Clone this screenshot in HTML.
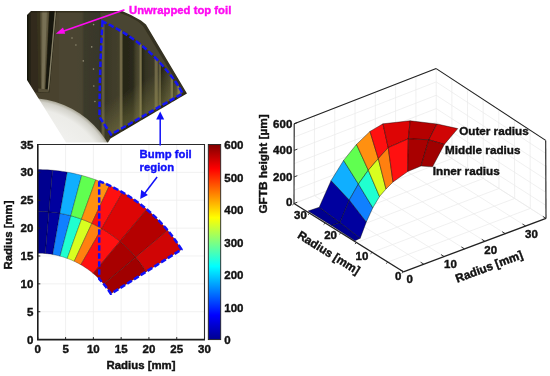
<!DOCTYPE html>
<html><head><meta charset="utf-8"><title>GFTB height</title>
<style>html,body{margin:0;padding:0;background:#fff}body{width:550px;height:376px;overflow:hidden}.t{font-family:"Liberation Sans",Arial,sans-serif;font-weight:bold;stroke-width:0.4px;paint-order:stroke}</style></head>
<body>
<svg width="550" height="376" viewBox="0 0 550 376" style="display:block">
<defs>
<linearGradient id="jet" x1="0" y1="1" x2="0" y2="0">
<stop offset="0" stop-color="#00008f"/>
<stop offset="0.125" stop-color="#0000ff"/>
<stop offset="0.375" stop-color="#00ffff"/>
<stop offset="0.625" stop-color="#ffff00"/>
<stop offset="0.875" stop-color="#ff0000"/>
<stop offset="1" stop-color="#800000"/>
</linearGradient>
<linearGradient id="pbase" x1="27" y1="0" x2="190" y2="0" gradientUnits="userSpaceOnUse">
<stop offset="0.0000" stop-color="#1a170d"/>
<stop offset="0.0123" stop-color="#2b2719"/>
<stop offset="0.0613" stop-color="#332f1f"/>
<stop offset="0.0675" stop-color="#2b2718"/>
<stop offset="0.1840" stop-color="#2b2718"/>
<stop offset="0.1902" stop-color="#4b4430"/>
<stop offset="0.2638" stop-color="#4c4530"/>
<stop offset="0.3374" stop-color="#4a4430"/>
<stop offset="0.3528" stop-color="#3b3a2b"/>
<stop offset="0.4356" stop-color="#39382a"/>
<stop offset="0.4540" stop-color="#353324"/>
<stop offset="0.4620" stop-color="#605a3e"/>
<stop offset="0.4724" stop-color="#605a3e"/>
<stop offset="0.4785" stop-color="#393826"/>
<stop offset="0.5215" stop-color="#3f3b29"/>
<stop offset="0.5663" stop-color="#43402c"/>
<stop offset="0.5706" stop-color="#6f6846"/>
<stop offset="0.5828" stop-color="#6f6846"/>
<stop offset="0.5890" stop-color="#262617"/>
<stop offset="0.6503" stop-color="#2a291b"/>
<stop offset="0.6687" stop-color="#43402b"/>
<stop offset="0.6890" stop-color="#4f4b31"/>
<stop offset="0.6920" stop-color="#7d754e"/>
<stop offset="0.7012" stop-color="#7d754e"/>
<stop offset="0.7055" stop-color="#262515"/>
<stop offset="0.7301" stop-color="#353323"/>
<stop offset="0.7791" stop-color="#3c3a28"/>
<stop offset="0.7877" stop-color="#6f6846"/>
<stop offset="0.7994" stop-color="#6f6846"/>
<stop offset="0.8049" stop-color="#353323"/>
<stop offset="0.8098" stop-color="#605b3e"/>
<stop offset="0.8190" stop-color="#605b3e"/>
<stop offset="0.8239" stop-color="#262515"/>
<stop offset="0.8528" stop-color="#353323"/>
<stop offset="0.8791" stop-color="#43402b"/>
<stop offset="0.8834" stop-color="#746e4a"/>
<stop offset="0.8939" stop-color="#746e4a"/>
<stop offset="0.8988" stop-color="#2a2919"/>
<stop offset="0.9202" stop-color="#3f3b28"/>
<stop offset="0.9264" stop-color="#7d754e"/>
<stop offset="0.9387" stop-color="#7d754e"/>
<stop offset="0.9448" stop-color="#353323"/>
<stop offset="1.0000" stop-color="#353323"/>
</linearGradient>
<radialGradient id="shaft" cx="28.8" cy="189.9" r="91.8" gradientUnits="userSpaceOnUse"><stop offset="0" stop-color="#e2e2e0"/><stop offset="0.6" stop-color="#f2f2f0"/><stop offset="0.88" stop-color="#ecece8"/><stop offset="0.965" stop-color="#d2d1c9"/><stop offset="1" stop-color="#a8a595"/></radialGradient>
<clipPath id="pclip"><polygon points="27,15 31,11 122,11 131,15 141,20.5 146,24.5 187,93.4 110.5,138.6 108,142.5 66,142.5 27,80"/></clipPath>
<linearGradient id="glow" x1="150" y1="115.3" x2="133" y2="86.5" gradientUnits="userSpaceOnUse"><stop offset="0" stop-color="#8a8648" stop-opacity="0.5"/><stop offset="0.12" stop-color="#8a8648" stop-opacity="0.42"/><stop offset="1" stop-color="#8a8648" stop-opacity="0"/></linearGradient>
<filter id="soft" x="-5%" y="-5%" width="110%" height="110%"><feGaussianBlur stdDeviation="0.45"/></filter>
<marker id="mb" markerWidth="8" markerHeight="8" refX="6" refY="3.5" orient="auto" markerUnits="userSpaceOnUse"><path d="M0,0 L7,3.5 L0,7 Z" fill="#0000ff"/></marker>
</defs>
<rect width="550" height="376" fill="#ffffff"/>
<g clip-path="url(#pclip)"><g filter="url(#soft)">
<rect x="15" y="0" width="190" height="155" fill="url(#pbase)"/>
<path d="M99,0 L101,21.5 Q123,28 143,45.7 T173,76.6 L183,93.5 L205,100 L205,0 Z" fill="#4a4530"/>
<path d="M122,11 L131,15 L141,20.5 L146,24.5 L187,93.4 L184.5,95 L143,26 L138,21.5 L129,16.5 L120,13 Z" fill="#2f2b1b" opacity="0.75"/>
<path d="M101,21.5 Q99.5,70 99.5,117 L111,134.5 L182.5,93.5 Q176,80 158,60.6 Q136,37 101,21.5 Z" fill="url(#glow)"/>
<path d="M187,93.4 L110.5,138.6 L109,136.6 L185.5,91.4 Z" fill="#2a2718" opacity="0.8"/>
<path d="M15,8 L37.5,8 L38.3,92 L15,92 Z" fill="#302b1b"/>
<path d="M15,8 L31,8 L31,92 L15,92 Z" fill="#272315" opacity="0.8"/>
<path d="M15,8 L28.6,8 L28.6,92 L15,92 Z" fill="#14110a" opacity="0.8"/>
<path d="M37,8 L56,8 L48.6,91 L38.3,91 Z" fill="#38331f"/>
<path d="M40.3,8 L49,8 L45,89.5 L41,89.5 Z" fill="#5d563e"/>
<path d="M42.3,8 L47,8 L44.2,89.5 L42,89.5 Z" fill="#776f54"/>
<path d="M49.6,8 L55,8 L47.6,90 L45.6,90 Z" fill="#17150c"/>
<path d="M55.1,8 L56.4,8 L49,90.5 L47.7,90.5 Z" fill="#858068"/>
<path d="M38.3,88.5 L48.8,89.5 L48.6,92.5 L38.3,92 Z" fill="#565039"/>
<path d="M15,92.5 L49.3,92.5 L57,8 L58.5,8 L59,150 L15,150 Z" fill="#49432f"/>
<circle cx="93.6" cy="24.6" r="0.8" fill="#8f8b74"/>
<circle cx="75.9" cy="45" r="0.8" fill="#8f8b74"/>
<circle cx="91.7" cy="46.9" r="0.8" fill="#8f8b74"/>
<circle cx="83.3" cy="60.9" r="0.8" fill="#8f8b74"/>
<circle cx="93.5" cy="69.1" r="0.8" fill="#8f8b74"/>
<circle cx="93.8" cy="86" r="0.8" fill="#8f8b74"/>
<circle cx="94.9" cy="101.5" r="0.8" fill="#8f8b74"/>
<circle cx="72" cy="38" r="0.8" fill="#8f8b74"/>
<rect x="15" y="9" width="190" height="3.5" fill="#1f1c10" opacity="0.55"/>
<circle cx="28.8" cy="189.9" r="91.8" fill="url(#shaft)"/>
</g></g>
<path d="M102.5,21.5 Q99.5,70 99.5,117 L111,134.5 L182.5,93.5 Q176,80 158,60.6 Q136,37 102.5,21.5 Z" fill="none" stroke="#1414f5" stroke-width="2.5" stroke-dasharray="5.6 2.4"/>
<line x1="124.5" y1="9.7" x2="61" y2="32" stroke="#ff0af2" stroke-width="1.7"/>
<polygon points="55.8,33.8 63,27.6 65.2,33.8" fill="#ff0af2"/>
<text x="129" y="14.2" class="t" font-size="11.3" fill="#ff0af2" stroke="#ff0af2">Unwrapped top foil</text>
<rect x="37.8" y="144.5" width="166.7" height="195.10000000000002" fill="#fff"/>
<line x1="65.58" y1="144.5" x2="65.58" y2="339.6" stroke="#ebebeb" stroke-width="0.7"/>
<line x1="93.37" y1="144.5" x2="93.37" y2="339.6" stroke="#ebebeb" stroke-width="0.7"/>
<line x1="121.15" y1="144.5" x2="121.15" y2="339.6" stroke="#ebebeb" stroke-width="0.7"/>
<line x1="148.93" y1="144.5" x2="148.93" y2="339.6" stroke="#ebebeb" stroke-width="0.7"/>
<line x1="176.72" y1="144.5" x2="176.72" y2="339.6" stroke="#ebebeb" stroke-width="0.7"/>
<line x1="37.8" y1="311.73" x2="204.5" y2="311.73" stroke="#ebebeb" stroke-width="0.7"/>
<line x1="37.8" y1="283.86" x2="204.5" y2="283.86" stroke="#ebebeb" stroke-width="0.7"/>
<line x1="37.8" y1="255.99" x2="204.5" y2="255.99" stroke="#ebebeb" stroke-width="0.7"/>
<line x1="37.8" y1="228.11" x2="204.5" y2="228.11" stroke="#ebebeb" stroke-width="0.7"/>
<line x1="37.8" y1="200.24" x2="204.5" y2="200.24" stroke="#ebebeb" stroke-width="0.7"/>
<line x1="37.8" y1="172.37" x2="204.5" y2="172.37" stroke="#ebebeb" stroke-width="0.7"/>
<path d="M37.80,211.39 L39.66,211.40 L41.52,211.45 L43.37,211.51 L45.23,211.61 L47.09,211.73 L48.94,211.88 L45.31,253.53 L44.06,253.43 L42.81,253.34 L41.56,253.28 L40.31,253.24 L39.05,253.21 L37.80,253.20 Z" fill="#00008f" stroke="#000" stroke-opacity="0.7" stroke-width="0.4" stroke-linejoin="round"/>
<path d="M48.94,211.88 L50.79,212.06 L52.64,212.26 L54.48,212.49 L56.32,212.75 L58.16,213.03 L59.99,213.34 L52.76,254.51 L51.52,254.30 L50.28,254.11 L49.04,253.94 L47.80,253.78 L46.55,253.65 L45.31,253.53 Z" fill="#00009f" stroke="#000" stroke-opacity="0.7" stroke-width="0.4" stroke-linejoin="round"/>
<path d="M59.99,213.34 L61.82,213.68 L63.64,214.04 L65.46,214.43 L67.27,214.85 L69.08,215.29 L70.88,215.76 L60.09,256.14 L58.88,255.83 L57.66,255.53 L56.44,255.25 L55.22,254.98 L53.99,254.74 L52.76,254.51 Z" fill="#1080ff" stroke="#000" stroke-opacity="0.7" stroke-width="0.4" stroke-linejoin="round"/>
<path d="M70.88,215.76 L72.67,216.26 L74.45,216.78 L76.23,217.33 L78.00,217.90 L79.76,218.50 L81.51,219.12 L67.26,258.41 L66.08,257.99 L64.89,257.58 L63.70,257.20 L62.50,256.83 L61.30,256.48 L60.09,256.14 Z" fill="#20ffd0" stroke="#000" stroke-opacity="0.7" stroke-width="0.4" stroke-linejoin="round"/>
<path d="M81.51,219.12 L83.25,219.77 L84.99,220.45 L86.71,221.15 L88.42,221.88 L90.12,222.63 L91.81,223.40 L74.20,261.29 L73.06,260.77 L71.91,260.26 L70.76,259.78 L69.60,259.30 L68.43,258.85 L67.26,258.41 Z" fill="#d8ff20" stroke="#000" stroke-opacity="0.7" stroke-width="0.4" stroke-linejoin="round"/>
<path d="M91.81,223.40 L93.49,224.20 L95.16,225.03 L96.81,225.88 L98.46,226.75 L100.09,227.65 L101.70,228.57 L80.86,264.77 L79.77,264.15 L78.68,263.55 L77.57,262.96 L76.45,262.39 L75.33,261.83 L74.20,261.29 Z" fill="#ff8010" stroke="#000" stroke-opacity="0.7" stroke-width="0.4" stroke-linejoin="round"/>
<path d="M101.70,228.57 L104.89,230.48 L108.03,232.48 L111.10,234.58 L114.12,236.76 L117.07,239.03 L119.95,241.39 L93.16,273.41 L91.22,271.83 L89.23,270.30 L87.20,268.82 L85.13,267.41 L83.02,266.06 L80.86,264.77 Z" fill="#ff1010" stroke="#000" stroke-opacity="0.7" stroke-width="0.4" stroke-linejoin="round"/>
<path d="M119.95,241.39 L122.76,243.82 L125.50,246.34 L128.17,248.94 L130.76,251.62 L133.27,254.37 L135.70,257.19 L103.78,284.06 L102.14,282.16 L100.45,280.31 L98.70,278.50 L96.90,276.75 L95.06,275.06 L93.16,273.41 Z" fill="#a80000" stroke="#000" stroke-opacity="0.7" stroke-width="0.4" stroke-linejoin="round"/>
<path d="M135.70,257.19 L137.59,259.50 L139.42,261.85 L141.20,264.24 L142.92,266.67 L144.58,269.15 L146.18,271.66 L110.84,293.81 L109.76,292.12 L108.64,290.45 L107.48,288.81 L106.28,287.20 L105.05,285.62 L103.78,284.06 Z" fill="#a00000" stroke="#000" stroke-opacity="0.7" stroke-width="0.4" stroke-linejoin="round"/>
<path d="M37.80,169.58 L40.26,169.60 L42.73,169.66 L45.19,169.75 L47.65,169.87 L50.11,170.03 L52.57,170.23 L48.94,211.88 L47.09,211.73 L45.23,211.61 L43.37,211.51 L41.52,211.45 L39.66,211.40 L37.80,211.39 Z" fill="#00008f" stroke="#000" stroke-opacity="0.7" stroke-width="0.4" stroke-linejoin="round"/>
<path d="M52.57,170.23 L55.02,170.46 L57.48,170.73 L59.92,171.04 L62.36,171.38 L64.80,171.76 L67.23,172.17 L59.99,213.34 L58.16,213.03 L56.32,212.75 L54.48,212.49 L52.64,212.26 L50.79,212.06 L48.94,211.88 Z" fill="#00009f" stroke="#000" stroke-opacity="0.7" stroke-width="0.4" stroke-linejoin="round"/>
<path d="M67.23,172.17 L69.65,172.61 L72.07,173.10 L74.48,173.61 L76.88,174.17 L79.28,174.75 L81.66,175.38 L70.88,215.76 L69.08,215.29 L67.27,214.85 L65.46,214.43 L63.64,214.04 L61.82,213.68 L59.99,213.34 Z" fill="#10afff" stroke="#000" stroke-opacity="0.7" stroke-width="0.4" stroke-linejoin="round"/>
<path d="M81.66,175.38 L84.04,176.03 L86.41,176.73 L88.76,177.45 L91.11,178.21 L93.44,179.01 L95.77,179.84 L81.51,219.12 L79.76,218.50 L78.00,217.90 L76.23,217.33 L74.45,216.78 L72.67,216.26 L70.88,215.76 Z" fill="#60ff50" stroke="#000" stroke-opacity="0.7" stroke-width="0.4" stroke-linejoin="round"/>
<path d="M95.77,179.84 L98.08,180.70 L100.37,181.60 L102.66,182.53 L104.93,183.49 L107.18,184.48 L109.42,185.51 L91.81,223.40 L90.12,222.63 L88.42,221.88 L86.71,221.15 L84.99,220.45 L83.25,219.77 L81.51,219.12 Z" fill="#ff9010" stroke="#000" stroke-opacity="0.7" stroke-width="0.4" stroke-linejoin="round"/>
<path d="M109.42,185.51 L111.65,186.57 L113.86,187.67 L116.06,188.79 L118.23,189.95 L120.40,191.14 L122.54,192.36 L101.70,228.57 L100.09,227.65 L98.46,226.75 L96.81,225.88 L95.16,225.03 L93.49,224.20 L91.81,223.40 Z" fill="#ff1010" stroke="#000" stroke-opacity="0.7" stroke-width="0.4" stroke-linejoin="round"/>
<path d="M122.54,192.36 L126.77,194.90 L130.93,197.55 L135.01,200.33 L139.01,203.23 L142.92,206.24 L146.74,209.36 L119.95,241.39 L117.07,239.03 L114.12,236.76 L111.10,234.58 L108.03,232.48 L104.89,230.48 L101.70,228.57 Z" fill="#dd0505" stroke="#000" stroke-opacity="0.7" stroke-width="0.4" stroke-linejoin="round"/>
<path d="M146.74,209.36 L150.47,212.59 L154.10,215.94 L157.64,219.38 L161.07,222.93 L164.40,226.57 L167.63,230.32 L135.70,257.19 L133.27,254.37 L130.76,251.62 L128.17,248.94 L125.50,246.34 L122.76,243.82 L119.95,241.39 Z" fill="#b40000" stroke="#000" stroke-opacity="0.7" stroke-width="0.4" stroke-linejoin="round"/>
<path d="M167.63,230.32 L170.13,233.38 L172.56,236.49 L174.91,239.67 L177.19,242.89 L179.40,246.17 L181.53,249.51 L146.18,271.66 L144.58,269.15 L142.92,266.67 L141.20,264.24 L139.42,261.85 L137.59,259.50 L135.70,257.19 Z" fill="#d00505" stroke="#000" stroke-opacity="0.7" stroke-width="0.4" stroke-linejoin="round"/>
<path d="M99.20,181.13 L99.20,279.01 L99.20,279.01 L102.41,282.47 L105.42,286.09 L108.24,289.88 L110.84,293.81 L181.53,249.51 L178.57,244.93 L175.47,240.45 L172.23,236.07 L168.85,231.80 L165.34,227.64 L161.69,223.59 L157.92,219.66 L154.02,215.86 L150.01,212.18 L145.88,208.64 L141.63,205.23 L137.28,201.96 L132.83,198.83 L128.28,195.84 L123.64,193.01 L118.91,190.32 L114.10,187.79 L109.20,185.41 L104.24,183.19 L99.20,181.13" fill="none" stroke="#1010f8" stroke-width="2.5" stroke-dasharray="5.6 2.4" stroke-linejoin="round"/>
<path d="M37.8,144.5 L204.5,144.5 L204.5,339.6" fill="none" stroke="#2a2a2a" stroke-width="1.1"/>
<path d="M37.8,144.0 L37.8,339.6 L205.0,339.6" fill="none" stroke="#1c1c1c" stroke-width="1.6"/>
<line x1="37.80" y1="339.6" x2="37.80" y2="337.1" stroke="#222" stroke-width="1"/>
<text x="37.80" y="353" text-anchor="middle" class="t" font-size="11.5" fill="#111" stroke="#111">0</text>
<line x1="65.58" y1="339.6" x2="65.58" y2="337.1" stroke="#222" stroke-width="1"/>
<text x="65.58" y="353" text-anchor="middle" class="t" font-size="11.5" fill="#111" stroke="#111">5</text>
<line x1="93.37" y1="339.6" x2="93.37" y2="337.1" stroke="#222" stroke-width="1"/>
<text x="93.37" y="353" text-anchor="middle" class="t" font-size="11.5" fill="#111" stroke="#111">10</text>
<line x1="121.15" y1="339.6" x2="121.15" y2="337.1" stroke="#222" stroke-width="1"/>
<text x="121.15" y="353" text-anchor="middle" class="t" font-size="11.5" fill="#111" stroke="#111">15</text>
<line x1="148.93" y1="339.6" x2="148.93" y2="337.1" stroke="#222" stroke-width="1"/>
<text x="148.93" y="353" text-anchor="middle" class="t" font-size="11.5" fill="#111" stroke="#111">20</text>
<line x1="176.72" y1="339.6" x2="176.72" y2="337.1" stroke="#222" stroke-width="1"/>
<text x="176.72" y="353" text-anchor="middle" class="t" font-size="11.5" fill="#111" stroke="#111">25</text>
<line x1="204.50" y1="339.6" x2="204.50" y2="337.1" stroke="#222" stroke-width="1"/>
<text x="204.50" y="353" text-anchor="middle" class="t" font-size="11.5" fill="#111" stroke="#111">30</text>
<line x1="37.8" y1="339.60" x2="40.3" y2="339.60" stroke="#222" stroke-width="1"/>
<text x="33.4" y="343.60" text-anchor="end" class="t" font-size="11.5" fill="#111" stroke="#111">0</text>
<line x1="37.8" y1="311.73" x2="40.3" y2="311.73" stroke="#222" stroke-width="1"/>
<text x="33.4" y="315.73" text-anchor="end" class="t" font-size="11.5" fill="#111" stroke="#111">5</text>
<line x1="37.8" y1="283.86" x2="40.3" y2="283.86" stroke="#222" stroke-width="1"/>
<text x="33.4" y="287.86" text-anchor="end" class="t" font-size="11.5" fill="#111" stroke="#111">10</text>
<line x1="37.8" y1="255.99" x2="40.3" y2="255.99" stroke="#222" stroke-width="1"/>
<text x="33.4" y="259.99" text-anchor="end" class="t" font-size="11.5" fill="#111" stroke="#111">15</text>
<line x1="37.8" y1="228.11" x2="40.3" y2="228.11" stroke="#222" stroke-width="1"/>
<text x="33.4" y="232.11" text-anchor="end" class="t" font-size="11.5" fill="#111" stroke="#111">20</text>
<line x1="37.8" y1="200.24" x2="40.3" y2="200.24" stroke="#222" stroke-width="1"/>
<text x="33.4" y="204.24" text-anchor="end" class="t" font-size="11.5" fill="#111" stroke="#111">25</text>
<line x1="37.8" y1="172.37" x2="40.3" y2="172.37" stroke="#222" stroke-width="1"/>
<text x="33.4" y="176.37" text-anchor="end" class="t" font-size="11.5" fill="#111" stroke="#111">30</text>
<line x1="37.8" y1="144.50" x2="40.3" y2="144.50" stroke="#222" stroke-width="1"/>
<text x="33.4" y="148.50" text-anchor="end" class="t" font-size="11.5" fill="#111" stroke="#111">35</text>
<text x="141" y="369.4" text-anchor="middle" class="t" font-size="11.4" fill="#111" stroke="#111">Radius [mm]</text>
<text transform="translate(12,235) rotate(-90)" text-anchor="middle" class="t" font-size="11.4" fill="#111" stroke="#111">Radius [mm]</text>
<rect x="208.3" y="144.5" width="12.399999999999977" height="195.10000000000002" fill="url(#jet)" stroke="#222" stroke-width="0.9"/>
<text x="224.3" y="344.20" class="t" font-size="11.5" fill="#111" stroke="#111">0</text>
<text x="224.3" y="311.68" class="t" font-size="11.5" fill="#111" stroke="#111">100</text>
<text x="224.3" y="279.17" class="t" font-size="11.5" fill="#111" stroke="#111">200</text>
<text x="224.3" y="246.65" class="t" font-size="11.5" fill="#111" stroke="#111">300</text>
<text x="224.3" y="214.13" class="t" font-size="11.5" fill="#111" stroke="#111">400</text>
<text x="224.3" y="181.62" class="t" font-size="11.5" fill="#111" stroke="#111">500</text>
<text x="224.3" y="149.10" class="t" font-size="11.5" fill="#111" stroke="#111">600</text>
<text x="139.6" y="157.9" class="t" font-size="11.3" fill="#1010f8" stroke="#1010f8">Bump foil</text>
<text x="139.6" y="171" class="t" font-size="11.3" fill="#1010f8" stroke="#1010f8">region</text>
<line x1="160.2" y1="145.5" x2="160.2" y2="117" stroke="#1010f8" stroke-width="1.5"/>
<polygon points="160.2,111.4 156.2,119.4 164.2,119.4" fill="#1010f8"/>
<line x1="157.1" y1="177" x2="144" y2="194.2" stroke="#1010f8" stroke-width="1.5"/>
<polygon points="140.2,198.9 141.2,189.8 147.9,194.9" fill="#1010f8"/>
<line x1="423.77" y1="264.17" x2="314.33" y2="195.66" stroke="#e9e9e9" stroke-width="0.7"/>
<line x1="387.77" y1="262.04" x2="530.33" y2="208.43" stroke="#e9e9e9" stroke-width="0.7"/>
<line x1="444.14" y1="256.54" x2="334.66" y2="187.81" stroke="#e9e9e9" stroke-width="0.7"/>
<line x1="372.14" y1="252.29" x2="514.66" y2="198.46" stroke="#e9e9e9" stroke-width="0.7"/>
<line x1="464.51" y1="248.91" x2="354.99" y2="179.97" stroke="#e9e9e9" stroke-width="0.7"/>
<line x1="356.51" y1="242.53" x2="498.99" y2="188.49" stroke="#e9e9e9" stroke-width="0.7"/>
<line x1="484.89" y1="241.29" x2="375.31" y2="172.13" stroke="#e9e9e9" stroke-width="0.7"/>
<line x1="340.89" y1="232.77" x2="483.31" y2="178.51" stroke="#e9e9e9" stroke-width="0.7"/>
<line x1="505.26" y1="233.66" x2="395.64" y2="164.29" stroke="#e9e9e9" stroke-width="0.7"/>
<line x1="325.26" y1="223.01" x2="467.64" y2="168.54" stroke="#e9e9e9" stroke-width="0.7"/>
<line x1="525.63" y1="226.03" x2="415.97" y2="156.44" stroke="#e9e9e9" stroke-width="0.7"/>
<line x1="309.63" y1="213.26" x2="451.97" y2="158.57" stroke="#e9e9e9" stroke-width="0.7"/>
<line x1="546.00" y1="218.40" x2="436.30" y2="148.60" stroke="#e9e9e9" stroke-width="0.7"/>
<line x1="294.00" y1="203.50" x2="436.30" y2="148.60" stroke="#e9e9e9" stroke-width="0.7"/>
<line x1="314.33" y1="195.66" x2="314.49" y2="115.91" stroke="#e9e9e9" stroke-width="0.7"/>
<line x1="334.66" y1="187.81" x2="334.77" y2="108.03" stroke="#e9e9e9" stroke-width="0.7"/>
<line x1="354.99" y1="179.97" x2="355.06" y2="100.14" stroke="#e9e9e9" stroke-width="0.7"/>
<line x1="375.31" y1="172.13" x2="375.34" y2="92.26" stroke="#e9e9e9" stroke-width="0.7"/>
<line x1="395.64" y1="164.29" x2="395.63" y2="84.37" stroke="#e9e9e9" stroke-width="0.7"/>
<line x1="415.97" y1="156.44" x2="415.91" y2="76.49" stroke="#e9e9e9" stroke-width="0.7"/>
<line x1="436.30" y1="148.60" x2="436.20" y2="68.60" stroke="#e9e9e9" stroke-width="0.7"/>
<line x1="294.00" y1="203.50" x2="436.30" y2="148.60" stroke="#e9e9e9" stroke-width="0.7"/>
<line x1="294.03" y1="190.22" x2="436.28" y2="135.27" stroke="#e9e9e9" stroke-width="0.7"/>
<line x1="294.07" y1="176.93" x2="436.27" y2="121.93" stroke="#e9e9e9" stroke-width="0.7"/>
<line x1="294.10" y1="163.65" x2="436.25" y2="108.60" stroke="#e9e9e9" stroke-width="0.7"/>
<line x1="294.13" y1="150.37" x2="436.23" y2="95.27" stroke="#e9e9e9" stroke-width="0.7"/>
<line x1="294.17" y1="137.08" x2="436.22" y2="81.93" stroke="#e9e9e9" stroke-width="0.7"/>
<line x1="294.20" y1="123.80" x2="436.20" y2="68.60" stroke="#e9e9e9" stroke-width="0.7"/>
<line x1="546.00" y1="218.40" x2="545.70" y2="140.40" stroke="#e9e9e9" stroke-width="0.7"/>
<line x1="530.33" y1="208.43" x2="530.06" y2="130.14" stroke="#e9e9e9" stroke-width="0.7"/>
<line x1="514.66" y1="198.46" x2="514.41" y2="119.89" stroke="#e9e9e9" stroke-width="0.7"/>
<line x1="498.99" y1="188.49" x2="498.77" y2="109.63" stroke="#e9e9e9" stroke-width="0.7"/>
<line x1="483.31" y1="178.51" x2="483.13" y2="99.37" stroke="#e9e9e9" stroke-width="0.7"/>
<line x1="467.64" y1="168.54" x2="467.49" y2="89.11" stroke="#e9e9e9" stroke-width="0.7"/>
<line x1="451.97" y1="158.57" x2="451.84" y2="78.86" stroke="#e9e9e9" stroke-width="0.7"/>
<line x1="546.00" y1="218.40" x2="436.30" y2="148.60" stroke="#e9e9e9" stroke-width="0.7"/>
<line x1="545.95" y1="205.40" x2="436.28" y2="135.27" stroke="#e9e9e9" stroke-width="0.7"/>
<line x1="545.90" y1="192.40" x2="436.27" y2="121.93" stroke="#e9e9e9" stroke-width="0.7"/>
<line x1="545.85" y1="179.40" x2="436.25" y2="108.60" stroke="#e9e9e9" stroke-width="0.7"/>
<line x1="545.80" y1="166.40" x2="436.23" y2="95.27" stroke="#e9e9e9" stroke-width="0.7"/>
<line x1="545.75" y1="153.40" x2="436.22" y2="81.93" stroke="#e9e9e9" stroke-width="0.7"/>
<line x1="545.70" y1="140.40" x2="436.20" y2="68.60" stroke="#e9e9e9" stroke-width="0.7"/>
<line x1="294.00" y1="203.50" x2="294.20" y2="123.80" stroke="#222" stroke-width="1.1"/>
<line x1="294.20" y1="123.80" x2="436.20" y2="68.60" stroke="#222" stroke-width="1.1"/>
<line x1="436.20" y1="68.60" x2="545.70" y2="140.40" stroke="#222" stroke-width="1.1"/>
<line x1="545.70" y1="140.40" x2="546.00" y2="218.40" stroke="#222" stroke-width="1.1"/>
<line x1="403.40" y1="271.80" x2="294.00" y2="203.50" stroke="#222" stroke-width="1.3"/>
<line x1="403.40" y1="271.80" x2="546.00" y2="218.40" stroke="#222" stroke-width="1.3"/>
<line x1="403.40" y1="271.80" x2="400.27" y2="269.85" stroke="#222" stroke-width="0.9"/>
<line x1="403.40" y1="271.80" x2="401.80" y2="273.30" stroke="#222" stroke-width="0.9"/>
<line x1="423.77" y1="264.17" x2="420.64" y2="262.21" stroke="#222" stroke-width="0.9"/>
<line x1="387.77" y1="262.04" x2="386.17" y2="263.54" stroke="#222" stroke-width="0.9"/>
<line x1="444.14" y1="256.54" x2="441.01" y2="254.58" stroke="#222" stroke-width="0.9"/>
<line x1="372.14" y1="252.29" x2="370.54" y2="253.79" stroke="#222" stroke-width="0.9"/>
<line x1="464.51" y1="248.91" x2="461.38" y2="246.94" stroke="#222" stroke-width="0.9"/>
<line x1="356.51" y1="242.53" x2="354.91" y2="244.03" stroke="#222" stroke-width="0.9"/>
<line x1="484.89" y1="241.29" x2="481.76" y2="239.31" stroke="#222" stroke-width="0.9"/>
<line x1="340.89" y1="232.77" x2="339.29" y2="234.27" stroke="#222" stroke-width="0.9"/>
<line x1="505.26" y1="233.66" x2="502.13" y2="231.68" stroke="#222" stroke-width="0.9"/>
<line x1="325.26" y1="223.01" x2="323.66" y2="224.51" stroke="#222" stroke-width="0.9"/>
<line x1="525.63" y1="226.03" x2="522.50" y2="224.04" stroke="#222" stroke-width="0.9"/>
<line x1="309.63" y1="213.26" x2="308.03" y2="214.76" stroke="#222" stroke-width="0.9"/>
<line x1="546.00" y1="218.40" x2="542.87" y2="216.41" stroke="#222" stroke-width="0.9"/>
<line x1="294.00" y1="203.50" x2="292.40" y2="205.00" stroke="#222" stroke-width="0.9"/>
<line x1="294.00" y1="203.50" x2="297.25" y2="202.25" stroke="#222" stroke-width="0.9"/>
<line x1="294.07" y1="176.93" x2="297.32" y2="175.68" stroke="#222" stroke-width="0.9"/>
<line x1="294.13" y1="150.37" x2="297.38" y2="149.11" stroke="#222" stroke-width="0.9"/>
<line x1="294.20" y1="123.80" x2="297.45" y2="122.54" stroke="#222" stroke-width="0.9"/>
<path d="M308.10,211.00 L319.20,207.30 L340.00,222.50 L331.50,225.50 Z" fill="#00008f" stroke="#000" stroke-opacity="0.8" stroke-width="0.5" stroke-linejoin="round"/>
<path d="M319.20,207.30 L331.10,180.60 L349.30,200.00 L340.00,222.50 Z" fill="#00009f" stroke="#000" stroke-opacity="0.8" stroke-width="0.5" stroke-linejoin="round"/>
<path d="M331.10,180.60 L343.60,160.40 L358.40,184.00 L349.30,200.00 Z" fill="#10afff" stroke="#000" stroke-opacity="0.8" stroke-width="0.5" stroke-linejoin="round"/>
<path d="M343.60,160.40 L356.50,144.40 L368.30,170.20 L358.40,184.00 Z" fill="#60ff50" stroke="#000" stroke-opacity="0.8" stroke-width="0.5" stroke-linejoin="round"/>
<path d="M356.50,144.40 L370.00,131.40 L378.30,158.70 L368.30,170.20 Z" fill="#ff9010" stroke="#000" stroke-opacity="0.8" stroke-width="0.5" stroke-linejoin="round"/>
<path d="M370.00,131.40 L383.00,123.80 L388.20,147.60 L378.30,158.70 Z" fill="#ff1010" stroke="#000" stroke-opacity="0.8" stroke-width="0.5" stroke-linejoin="round"/>
<path d="M383.00,123.80 L410.20,120.80 L408.30,138.80 L388.20,147.60 Z" fill="#dd0505" stroke="#000" stroke-opacity="0.8" stroke-width="0.5" stroke-linejoin="round"/>
<path d="M410.20,120.80 L437.00,124.00 L428.80,139.80 L408.30,138.80 Z" fill="#b40000" stroke="#000" stroke-opacity="0.8" stroke-width="0.5" stroke-linejoin="round"/>
<path d="M437.00,124.00 L457.80,128.60 L444.30,144.40 L428.80,139.80 Z" fill="#d00505" stroke="#000" stroke-opacity="0.8" stroke-width="0.5" stroke-linejoin="round"/>
<path d="M331.50,225.50 L340.00,222.50 L360.20,238.20 L355.00,240.80 Z" fill="#00008f" stroke="#000" stroke-opacity="0.8" stroke-width="0.5" stroke-linejoin="round"/>
<path d="M340.00,222.50 L349.30,200.00 L366.30,222.00 L360.20,238.20 Z" fill="#00009f" stroke="#000" stroke-opacity="0.8" stroke-width="0.5" stroke-linejoin="round"/>
<path d="M349.30,200.00 L358.40,184.00 L372.80,207.80 L366.30,222.00 Z" fill="#1080ff" stroke="#000" stroke-opacity="0.8" stroke-width="0.5" stroke-linejoin="round"/>
<path d="M358.40,184.00 L368.30,170.20 L379.50,196.50 L372.80,207.80 Z" fill="#20ffd0" stroke="#000" stroke-opacity="0.8" stroke-width="0.5" stroke-linejoin="round"/>
<path d="M368.30,170.20 L378.30,158.70 L386.00,189.00 L379.50,196.50 Z" fill="#d8ff20" stroke="#000" stroke-opacity="0.8" stroke-width="0.5" stroke-linejoin="round"/>
<path d="M378.30,158.70 L388.20,147.60 L393.00,182.00 L386.00,189.00 Z" fill="#ff8010" stroke="#000" stroke-opacity="0.8" stroke-width="0.5" stroke-linejoin="round"/>
<path d="M388.20,147.60 L408.30,138.80 L407.70,171.50 L393.00,182.00 Z" fill="#ff1010" stroke="#000" stroke-opacity="0.8" stroke-width="0.5" stroke-linejoin="round"/>
<path d="M408.30,138.80 L428.80,139.80 L421.00,166.00 L407.70,171.50 Z" fill="#a80000" stroke="#000" stroke-opacity="0.8" stroke-width="0.5" stroke-linejoin="round"/>
<path d="M428.80,139.80 L444.30,144.40 L432.50,166.80 L421.00,166.00 Z" fill="#a00000" stroke="#000" stroke-opacity="0.8" stroke-width="0.5" stroke-linejoin="round"/>
<text x="459.2" y="134.9" class="t" font-size="11.7" fill="#111" stroke="#111">Outer radius</text>
<text x="445.1" y="153.7" class="t" font-size="11.7" fill="#111" stroke="#111">Middle radius</text>
<text x="432.8" y="174.9" class="t" font-size="11.7" fill="#111" stroke="#111">Inner radius</text>
<text x="292.3" y="205.90" text-anchor="end" class="t" font-size="11.5" fill="#111" stroke="#111">0</text>
<text x="292.3" y="180.83" text-anchor="end" class="t" font-size="11.5" fill="#111" stroke="#111">200</text>
<text x="292.3" y="154.27" text-anchor="end" class="t" font-size="11.5" fill="#111" stroke="#111">400</text>
<text x="292.3" y="127.70" text-anchor="end" class="t" font-size="11.5" fill="#111" stroke="#111">600</text>
<text transform="translate(267.3,164) rotate(-90)" text-anchor="middle" class="t" font-size="11.8" fill="#111" stroke="#111">GFTB height [µm]</text>
<text x="300.5" y="218.9" text-anchor="middle" class="t" font-size="11.5" fill="#111" stroke="#111">30</text>
<text x="330.6" y="239.20000000000002" text-anchor="middle" class="t" font-size="11.5" fill="#111" stroke="#111">20</text>
<text x="362" y="259.9" text-anchor="middle" class="t" font-size="11.5" fill="#111" stroke="#111">10</text>
<text x="398.3" y="279.9" text-anchor="middle" class="t" font-size="11.5" fill="#111" stroke="#111">0</text>
<text x="409.7" y="282.9" text-anchor="middle" class="t" font-size="11.5" fill="#111" stroke="#111">0</text>
<text x="450.5" y="268.4" text-anchor="middle" class="t" font-size="11.5" fill="#111" stroke="#111">10</text>
<text x="490.7" y="253.5" text-anchor="middle" class="t" font-size="11.5" fill="#111" stroke="#111">20</text>
<text x="531.5" y="238.1" text-anchor="middle" class="t" font-size="11.5" fill="#111" stroke="#111">30</text>
<text transform="translate(328.8,252.6) rotate(31.9)" text-anchor="middle" y="4" class="t" font-size="11.7" fill="#111" stroke="#111">Radius [mm]</text>
<text transform="translate(489,266.6) rotate(-20.6)" text-anchor="middle" y="4" class="t" font-size="11.7" fill="#111" stroke="#111">Radius [mm]</text>
</svg>
</body></html>
